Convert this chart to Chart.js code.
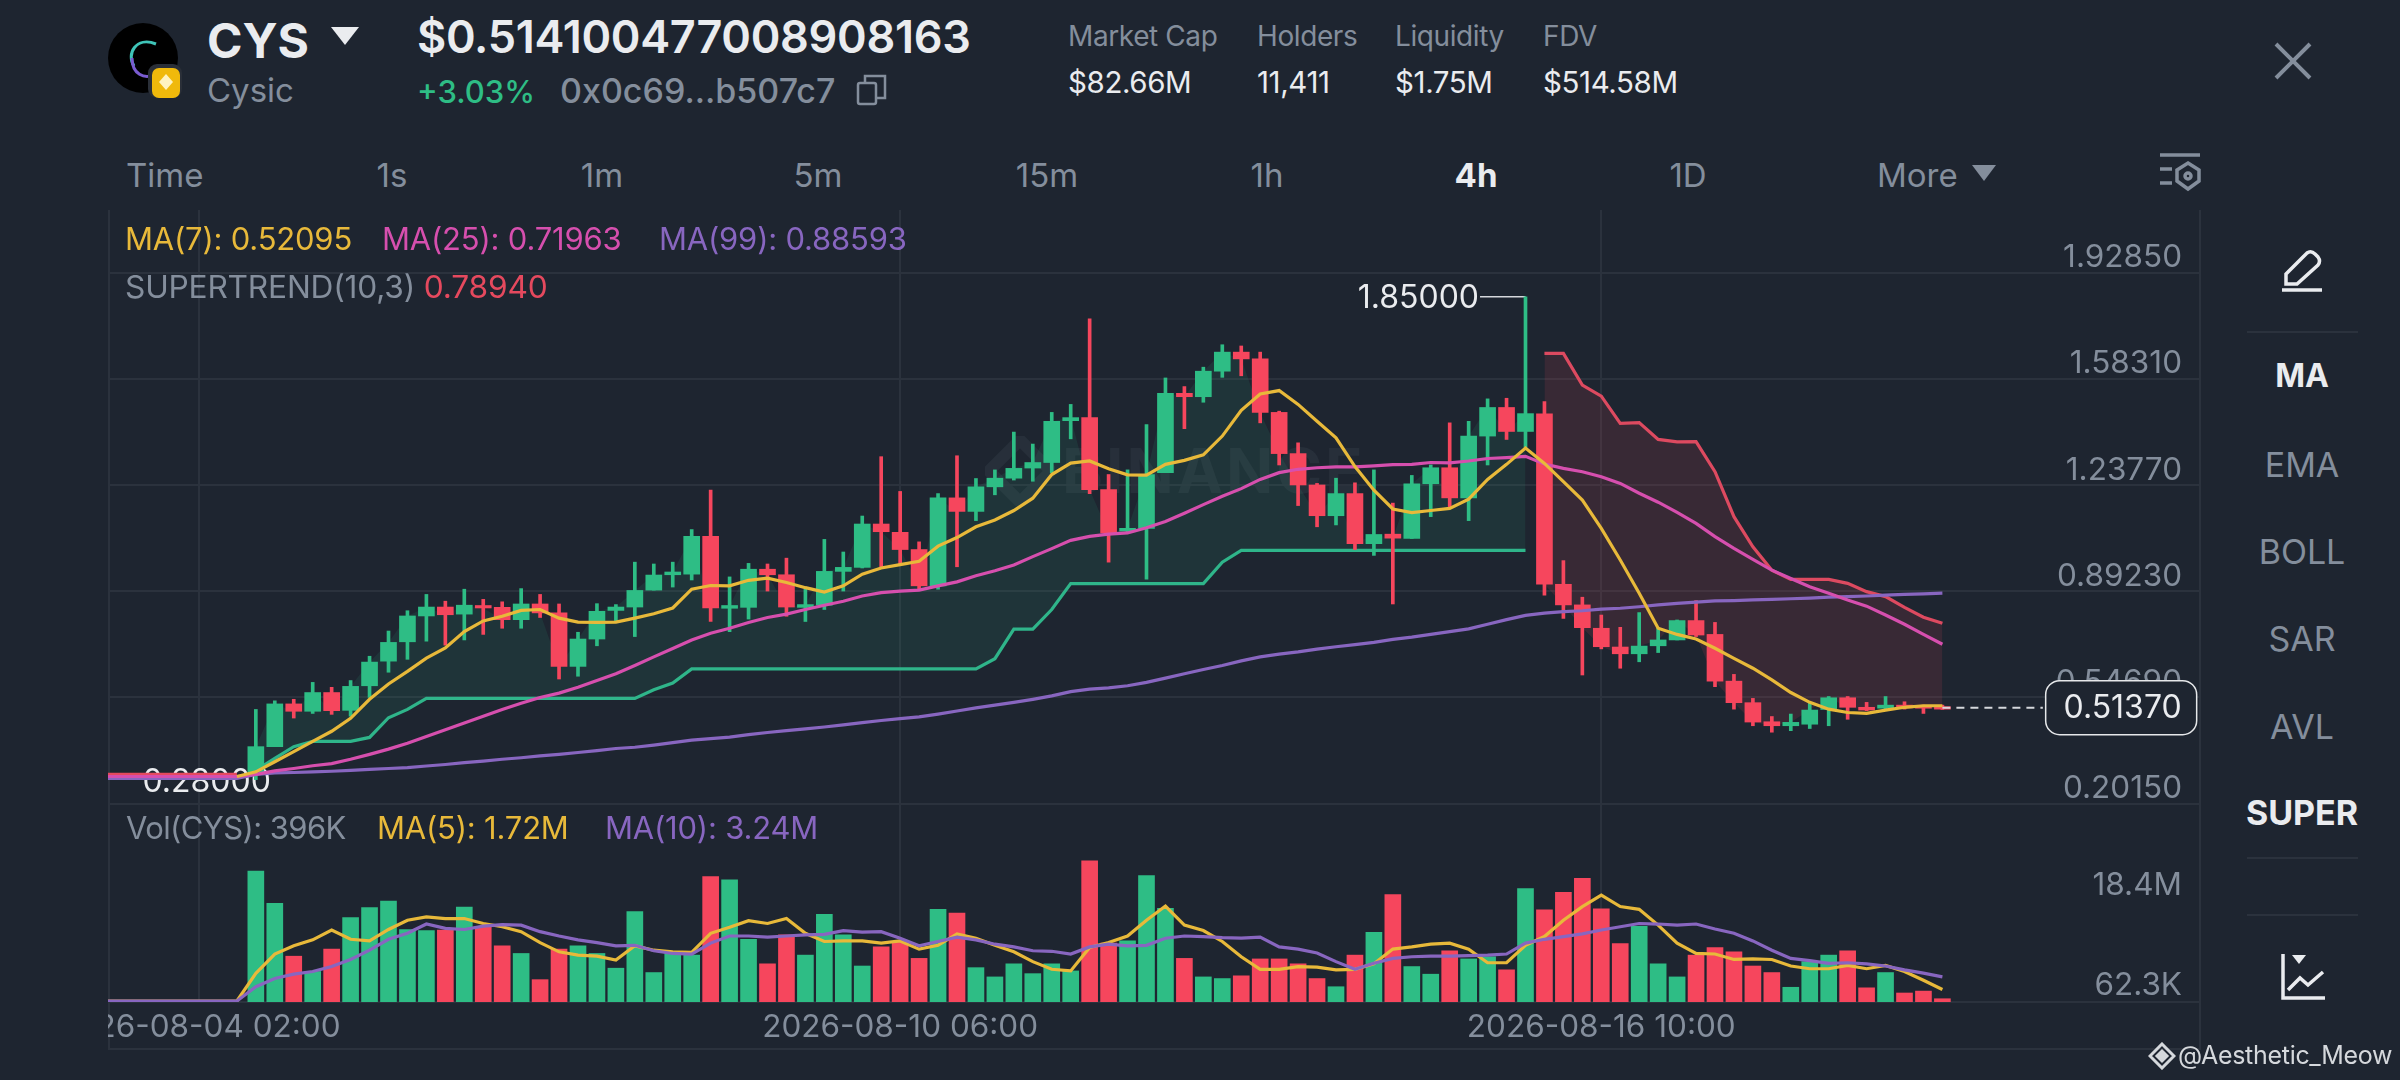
<!DOCTYPE html>
<html>
<head>
<meta charset="utf-8">
<title>CYS</title>
<script src="https://cdn.jsdelivr.net/npm/chart.js@4"></script>
<style>
  html, body { margin: 0; background: #1e2530; }
  body { width: 2400px; height: 1080px; position: relative; overflow: hidden; font-family: Inter, sans-serif; color: #848e9c; }
  .t { position: absolute; transform: translateY(-50%); white-space: nowrap; line-height: 1; z-index: 3; }
  .c { transform: translate(-50%, -50%); }
  .white { color: #eaecef; }
  .stat { font-size: 28px; letter-spacing: -0.4px; }
  .val { font-size: 29.5px; letter-spacing: -0.4px; }
  .tab { font-size: 33px; }
  .side { font-size: 34px; }
  .leg { font-size: 31px; letter-spacing: -0.2px; }
  .sep { position: absolute; left: 2247px; width: 111px; height: 2px; background: #2b323d; }
  svg { position: absolute; z-index: 3; }
  #frame { position: absolute; left: 108px; top: 210px; width: 2089px; height: 838px; border: 2px solid #2b323d; border-top: none; }
  #chart { position: absolute; left: 108px; top: 210px; z-index: 2; }
  #mark { position: absolute; left: 1062px; top: 470px; transform: translateY(-50%); font-size: 62px; font-weight: 700; letter-spacing: 3px; color: #272f3a; z-index: 1; }
</style>
</head>
<body>
<div id="frame"></div>
<svg style="left:985px;top:436px;z-index:1" width="70" height="70" viewBox="0 0 70 70"><path d="M35 4 66 35 35 66 4 35Z" fill="none" stroke="#272f3a" stroke-width="12"/></svg>
<div id="mark">BINANCE</div>
<canvas id="chart" width="2091" height="840"></canvas>

<svg style="left:106px;top:22px" width="80" height="76" viewBox="0 0 80 76">
  <circle cx="37" cy="36" r="35" fill="#000"/>
  <path d="M50 22C30 14 20 32 28 44" fill="none" stroke="#3fc4b8" stroke-width="3"/>
  <path d="M26 36C26 52 38 58 50 52" fill="none" stroke="#7a5cd0" stroke-width="3"/>
  <rect x="42" y="42" width="34" height="34" rx="9" fill="#2a2f38"/>
  <rect x="46" y="46" width="28" height="30" rx="7" fill="#f0b90b"/>
  <path d="M60 52 67 60 60 68 53 60Z" fill="#fff3c0"/>
</svg>
<div class="t white" style="left:207px;top:41px;font-size:48px;font-weight:700">CYS</div>
<svg style="left:331px;top:27px" width="28" height="18"><path d="M0 0H28L14 18Z" fill="#eaecef"/></svg>
<div class="t white" style="left:417px;top:36px;font-size:45px;font-weight:600;letter-spacing:-0.3px">$0.514100477008908163</div>
<div class="t" style="left:207px;top:90px;font-size:33px">Cysic</div>
<div class="t" style="left:417px;top:91px;font-size:31px;font-weight:500;color:#2ebd85">+3.03%</div>
<div class="t" style="left:560px;top:91px;font-size:34px;font-weight:500">0x0c69...b507c7</div>
<svg style="left:856px;top:74px" width="32" height="32" fill="none" stroke="#848e9c" stroke-width="2.5"><rect x="2" y="9" width="18" height="21" rx="2"/><path d="M9 9V2H29V24H20"/></svg>

<div class="t stat" style="left:1068px;top:36px">Market Cap</div>
<div class="t val white" style="left:1068px;top:83px">$82.66M</div>
<div class="t stat" style="left:1257px;top:36px">Holders</div>
<div class="t val white" style="left:1257px;top:83px">11,411</div>
<div class="t stat" style="left:1395px;top:36px">Liquidity</div>
<div class="t val white" style="left:1395px;top:83px">$1.75M</div>
<div class="t stat" style="left:1543px;top:36px">FDV</div>
<div class="t val white" style="left:1543px;top:83px">$514.58M</div>
<svg style="left:2274px;top:42px" width="38" height="38" stroke="#848e9c" stroke-width="4"><path d="M2 2 36 36M36 2 2 36"/></svg>

<div class="t tab" style="left:126px;top:175px">Time</div>
<div class="t tab c" style="left:392px;top:175px">1s</div>
<div class="t tab c" style="left:602px;top:175px">1m</div>
<div class="t tab c" style="left:818px;top:175px">5m</div>
<div class="t tab c" style="left:1047px;top:175px">15m</div>
<div class="t tab c" style="left:1267px;top:175px">1h</div>
<div class="t tab c white" style="left:1476px;top:175px;font-weight:700">4h</div>
<div class="t tab c" style="left:1688px;top:175px">1D</div>
<div class="t tab" style="left:1877px;top:175px">More</div>
<svg style="left:1972px;top:165px" width="24" height="16"><path d="M0 0H24L12 16Z" fill="#848e9c"/></svg>
<svg style="left:2158px;top:152px" width="44" height="40" fill="none" stroke="#848e9c" stroke-width="3.5"><path d="M2 3H42M2 17H14M2 31H14"/><path d="M30 11 41 18V29L30 37 19 29V18Z"/><circle cx="30" cy="24" r="3"/></svg>

<div class="t leg" style="left:125px;top:238px;color:#e8b93a">MA(7): 0.52095</div>
<div class="t leg" style="left:382px;top:238px;color:#d64fae">MA(25): 0.71963</div>
<div class="t leg" style="left:659px;top:238px;color:#8866c0">MA(99): 0.88593</div>
<div class="t leg" style="left:125px;top:287px;font-size:31.7px">SUPERTREND(10,3) <span style="color:#e5495e">0.78940</span></div>
<div class="t leg" style="left:126px;top:827px;letter-spacing:-0.6px">Vol(CYS): 396K</div>
<div class="t leg" style="left:377px;top:827px;color:#e8b93a">MA(5): 1.72M</div>
<div class="t leg" style="left:605px;top:827px;color:#8866c0">MA(10): 3.24M</div>

<svg style="left:2280px;top:248px" width="44" height="44" fill="none" stroke="#eaecef" stroke-width="3.5"><path d="M2 42H42"/><path d="M6 26 27 5Q31 2 35 6L38 9Q41 13 38 17L17 36 6 36Z"/></svg>
<div class="sep" style="top:331px"></div>
<div class="t c white" style="left:2302px;top:376px;font-size:32px;font-weight:700">MA</div>
<div class="t side c" style="left:2302px;top:465px">EMA</div>
<div class="t side c" style="left:2302px;top:552px">BOLL</div>
<div class="t side c" style="left:2302px;top:639px">SAR</div>
<div class="t side c" style="left:2302px;top:727px">AVL</div>
<div class="t side c white" style="left:2302px;top:813px;font-weight:700">SUPER</div>
<div class="sep" style="top:857px"></div>
<div class="sep" style="top:914px"></div>
<svg style="left:2280px;top:952px" width="46" height="50" fill="none" stroke="#eaecef" stroke-width="3.5"><path d="M3 2V46H45"/><path d="M8 38 20 26 28 33 43 20"/><path d="M12 3H26L19 12Z" fill="#eaecef" stroke="none"/></svg>

<svg style="left:2148px;top:1042px" width="28" height="28" fill="none" stroke="#d5d8dc" stroke-width="3"><path d="M14 2 26 14 14 26 2 14Z"/><path d="M14 9 19 14 14 19 9 14Z" fill="#d5d8dc"/></svg>
<div class="t" style="left:2178px;top:1055px;font-size:25px;letter-spacing:-0.3px;color:#d5d8dc">@Aesthetic_Meow</div>

<script>
// price candles, left to right
const opens = [.305,.387,.526,.502,.563,.505,.585,.665,.728,.812,
  .841,.818,.846,.840,.800,.851,.822,.648,.737,.830,
  .841,.896,.946,.948,1.071,.837,.840,.964,.946,.840,
  .847,.957,.970,1.111,1.084,1.028,.910,1.196,1.152,1.232,
  1.260,1.293,1.311,1.447,1.457,1.223,1.088,1.097,1.278,1.536,
  1.525,1.608,1.670,1.648,1.474,1.340,1.238,1.138,1.210,1.047,
  1.078,1.064,1.242,1.294,1.196,1.397,1.490,1.412,1.469,.915,
  .848,.772,.711,.689,.715,.734,.797,.752,.600,.530,
  .468,.455,.460,.508,.546,.515,.512,.522,.520,.517];
const closes = [.387,.526,.502,.563,.504,.583,.662,.726,.812,.841,
  .816,.847,.838,.800,.851,.822,.648,.737,.827,.841,
  .895,.945,.955,1.071,.838,.846,.964,.946,.841,.849,
  .957,.970,1.111,1.086,1.028,.910,1.196,1.152,1.232,1.260,
  1.292,1.311,1.445,1.457,1.223,1.082,1.097,1.272,1.536,1.525,
  1.608,1.670,1.648,1.474,1.340,1.238,1.138,1.210,1.047,1.077,
  1.065,1.242,1.294,1.196,1.397,1.490,1.412,1.470,.915,.848,
  .774,.712,.689,.714,.734,.797,.750,.600,.530,.467,
  .455,.466,.506,.546,.515,.506,.522,.513,.512,.509];
const highs = [.508,.536,.541,.596,.580,.602,.681,.763,.829,.882,
  .860,.899,.866,.858,.901,.882,.851,.759,.852,.849,
  .987,.981,.987,1.093,1.221,.939,.983,.981,1.000,.899,
  1.061,1.020,1.137,1.330,1.217,1.053,1.210,1.333,1.259,1.287,
  1.410,1.371,1.474,1.500,1.778,1.272,1.287,1.434,1.586,1.558,
  1.621,1.694,1.690,1.670,1.478,1.375,1.243,1.260,1.245,1.287,
  1.179,1.269,1.303,1.440,1.445,1.518,1.520,1.850,1.509,.992,
  .873,.815,.775,.823,.772,.799,.862,.791,.622,.544,
  .485,.493,.528,.550,.550,.531,.550,.533,.522,.522];
const lows = [.280,.387,.480,.495,.492,.486,.547,.629,.671,.730,
  .717,.734,.752,.772,.772,.807,.607,.616,.715,.794,
  .745,.896,.906,.929,.794,.761,.802,.893,.811,.794,
  .833,.893,.968,.972,.981,.899,.899,.972,1.122,1.206,
  1.254,1.250,1.278,1.388,1.210,.987,1.085,.932,1.278,1.421,
  1.507,1.588,1.593,1.440,1.303,1.171,1.102,1.108,1.028,1.009,
  .851,1.064,1.135,1.166,1.122,1.303,1.386,1.360,.880,.804,
  .620,.705,.642,.663,.693,.734,.745,.582,.509,.455,
  .434,.439,.446,.455,.476,.504,.506,.509,.495,.508];

// moving averages, 8 points before the first candle (MA7 hidden under the band there)
const ma7 = [null,null,null,null,null,null,null,.290,
  .305,.338,.371,.404,.437,.479,.541,.591,.632,.675,
  .708,.761,.796,.811,.830,.833,.805,.792,.791,.792,
  .805,.819,.838,.899,.911,.910,.928,.935,.921,.904,
  .890,.910,.948,.968,.979,.990,1.039,1.067,1.102,1.124,
  1.155,1.195,1.272,1.309,1.316,1.291,1.271,1.270,1.305,1.318,
  1.336,1.397,1.481,1.534,1.545,1.500,1.445,1.391,1.298,1.221,
  1.160,1.148,1.155,1.162,1.192,1.256,1.305,1.358,1.308,1.249,
  1.189,1.097,.994,.886,.772,.752,.737,.707,.674,.642,
  .604,.563,.531,.509,.498,.495,.506,.515,.520,.520];
const ma25 = [.290,.290,.290,.290,.290,.290,.290,.290,
  .297,.308,.316,.325,.332,.346,.362,.379,.398,.420,
  .442,.464,.486,.508,.528,.547,.561,.580,.602,.624,
  .651,.679,.706,.734,.756,.772,.791,.807,.818,.833,
  .847,.860,.877,.888,.893,.896,.910,.923,.943,.959,
  .978,1.005,1.031,1.058,1.071,1.078,1.082,1.099,1.119,1.146,
  1.174,1.201,1.226,1.256,1.278,1.289,1.294,1.297,1.297,1.300,
  1.304,1.305,1.311,1.310,1.316,1.324,1.327,1.331,1.306,1.292,
  1.281,1.265,1.243,1.211,1.182,1.149,1.113,1.070,1.032,.996,
  .961,.934,.907,.886,.864,.844,.815,.785,.752,.720];
const ma99 = [.284,.284,.284,.284,.284,.284,.284,.284,
  .297,.302,.303,.305,.307,.310,.313,.316,.319,.324,
  .329,.335,.340,.346,.351,.357,.362,.368,.374,.381,
  .385,.392,.400,.408,.413,.418,.426,.433,.439,.445,
  .451,.458,.465,.472,.478,.484,.493,.503,.513,.522,
  .531,.541,.552,.566,.574,.578,.585,.596,.610,.624,
  .638,.651,.666,.679,.688,.695,.704,.712,.719,.726,
  .736,.743,.752,.761,.770,.785,.800,.814,.821,.826,
  .829,.834,.837,.842,.848,.853,.857,.861,.862,.864,
  .866,.868,.870,.873,.875,.877,.880,.882,.884,.886];

// supertrend: flat stretch before the candles, up leg (green), down leg (red)
const superFlat = [.297,.297,.297,.297,.297,.297,.297,.297];
const superUp = [.310,.349,.387,.404,.404,.404,.417,.481,.508,.544,
  .544,.544,.544,.544,.544,.544,.544,.544,.544,.544,
  .544,.572,.594,.640,.640,.640,.640,.640,.640,.640,
  .640,.640,.640,.640,.640,.640,.640,.640,.640,.673,
  .769,.769,.833,.917,.917,.917,.917,.917,.917,.917,
  .917,.987,1.025,1.025,1.025,1.025,1.025,1.025,1.025,1.025,
  1.025,1.025,1.025,1.025,1.025,1.025,1.025,1.025];
const superDown = [1.666,1.666,1.563,1.527,1.438,1.441,1.386,1.378,1.379,1.281,
  1.135,1.037,.961,.931,.931,.931,.918,.891,.875,.840,.808,.788];

// volume in millions, one per candle
const volumes = [24.0,18.1,8.4,5.6,9.7,15.5,17.3,18.5,13.3,13.1,
  13.2,17.4,13.8,10.3,8.9,4.1,9.7,10.3,8.9,6.2,
  16.6,5.4,8.9,8.6,23.0,22.4,11.5,7.0,12.3,8.6,
  16.1,12.3,6.6,10.1,11.1,8.0,17.0,16.3,6.3,4.6,
  7.0,5.2,7.0,5.7,25.9,10.8,11.2,23.2,17.2,8.0,
  4.6,4.3,4.8,7.9,7.9,7.0,4.3,2.8,8.6,12.8,
  19.7,6.5,5.1,9.4,7.9,8.3,5.9,20.8,16.9,20.1,
  22.7,17.1,10.7,13.9,7.0,4.6,8.6,10.0,9.2,6.6,
  5.4,2.7,7.4,8.6,9.4,2.6,5.4,1.65,2.0,0.6];
const volMa5 = [.18,.18,.18,.18,.18,.18,.18,.18,
  5.25,8.8,10.3,11.4,13.2,11.5,11.2,13.3,15.0,15.6,
  15.3,15.3,14.4,13.8,12.9,10.9,9.2,8.6,8.4,7.7,
  10.3,9.5,9.2,9.1,12.6,13.7,14.9,14.4,15.3,12.6,
  11.1,11.2,11.2,10.8,11.2,9.7,10.4,12.5,11.7,10.4,
  9.2,7.4,6.0,5.7,10.0,10.9,12.1,15.0,17.6,14.1,
  13.1,11.1,8.3,6.0,6.0,6.5,6.4,5.9,6.0,7.0,
  9.7,10.1,10.6,10.8,9.7,7.2,7.2,10.4,12.0,15.0,
  17.5,19.6,17.5,17.0,14.1,10.8,8.9,8.8,7.8,7.9,
  7.8,6.6,6.1,6.1,6.7,6.1,6.7,5.6,4.0,2.3];
const volMa10 = [.18,.18,.18,.18,.18,.18,.18,.18,
  2.8,4.3,5.1,5.6,6.5,7.8,9.5,11.5,12.6,14.3,
  13.5,13.3,13.9,14.2,14.1,12.9,12.1,11.4,10.9,10.3,
  10.4,9.4,8.9,8.8,10.8,12.1,12.1,11.9,12.1,12.3,
  12.4,13.1,12.8,12.9,11.7,10.3,11.1,11.9,11.4,10.6,
  10.1,9.4,9.3,8.8,10.1,10.6,10.3,10.4,11.7,12.1,
  12.0,11.8,11.7,11.9,10.1,9.7,9.0,7.4,6.0,7.1,
  8.0,8.3,8.4,8.4,8.5,8.6,8.8,10.8,11.5,12.0,
  12.5,13.2,13.8,14.4,14.3,14.1,14.3,13.4,12.6,11.2,
  9.5,8.0,7.6,7.1,7.2,7.0,6.6,5.9,5.3,4.6];

// axes
const priceTicks = [1.9285, 1.5831, 1.2377, 0.8923, 0.5469, 0.2015];
const volTicks = [18.4, 0.0623];
const volTickLabels = ["18.4M", "62.3K"];
const dateTicks = [0, 37, 74];
const dateLabels = ["2026-08-04 02:00", "2026-08-10 06:00", "2026-08-16 10:00"];
const lastPrice = 0.5137;

const UP = "#2ebd85", DOWN = "#f6465d", GREY = "#848e9c", GRID = "#2b323d";
const FIRST = 3;  // axis position of the first candle
const candles = (fn) => opens.map((_, i) => ({ x: FIRST + i, y: fn(i) }));
const colors = opens.map((o, i) => closes[i] >= o ? UP : DOWN);
const withLead = (arr) => arr.map((y, i) => ({ x: i - 5, y }));
const line = (label, data, color, axis, order, extra) => Object.assign({
  type: "line", label, data, borderColor: color, borderWidth: 3.2, pointRadius: 0,
  tension: 0, yAxisID: axis, order
}, extra || {});

const datasets = [
  line("close", candles(i => closes[i]), "transparent", "y", 20, { borderWidth: 0 }),
  line("up", superUp.map((y, i) => ({ x: FIRST + i, y })), "#2fb58a", "y", 9,
    { fill: { target: 0 }, backgroundColor: "rgba(46,189,133,0.10)" }),
  line("down", superDown.map((y, i) => ({ x: FIRST + superUp.length + i, y })), "#dd4a60", "y", 9,
    { fill: { target: 0 }, backgroundColor: "rgba(246,70,93,0.12)" }),
  line("flat", superFlat.map((y, i) => ({ x: i - 5, y })), "#e5495e", "y", 9),
  { type: "bar", label: "vol", data: volumes.map((y, i) => ({ x: FIRST + i, y })), backgroundColor: colors,
    yAxisID: "yv", grouped: false, barThickness: 16, order: 8 },
  { type: "bar", label: "wick", data: candles(i => [lows[i], highs[i]]), backgroundColor: colors,
    yAxisID: "y", grouped: false, barThickness: 3, order: 7 },
  { type: "bar", label: "body", data: candles(i => [opens[i], closes[i]]), backgroundColor: colors,
    yAxisID: "y", grouped: false, barThickness: 16, order: 6 },
  line("ma99", withLead(ma99), "#8866c0", "y", 5),
  line("ma25", withLead(ma25), "#d64fae", "y", 4),
  line("ma7", withLead(ma7), "#e8b93a", "y", 3),
  line("volMa5", withLead(volMa5), "#e8b93a", "yv", 2),
  line("volMa10", withLead(volMa10), "#8866c0", "yv", 1),
  line("high", [{ x: 67.6, y: 1.85 }, { x: 70, y: 1.85 }], "#d5d8dc", "y", 7, { borderWidth: 1.5 }),
  line("last", [{ x: 92, y: lastPrice }, { x: 97.3, y: lastPrice }], "#d5d8dc", "y", 1,
    { borderWidth: 2, borderDash: [8, 6] })
];

const marks = {
  id: "marks",
  beforeDatasetsDraw(chart) {
    const { x, y } = chart.scales, c = chart.ctx;
    c.save();
    c.font = "32px Inter";
    c.fillStyle = "#eaecef";
    c.textBaseline = "middle";
    c.textAlign = "right";
    c.fillText("0.28000", x.getPixelForValue(3) + 15, y.getPixelForValue(0.28) + 3);
    c.fillText("1.85000", x.getPixelForValue(67.6) - 1, y.getPixelForValue(1.85) + 2);
    c.restore();
  },
  afterDatasetsDraw(chart) {
    const { x, y } = chart.scales, c = chart.ctx;
    const py = y.getPixelForValue(lastPrice), left = x.getPixelForValue(97.45);
    c.save();
    c.beginPath();
    c.roundRect(left, py - 27, 151, 54, 14);
    c.fillStyle = "#1e2530";
    c.fill();
    c.strokeStyle = "#e6e8ea";
    c.lineWidth = 1.5;
    c.stroke();
    c.font = "32px Inter";
    c.fillStyle = "#eaecef";
    c.textBaseline = "middle";
    c.textAlign = "right";
    c.fillText(lastPrice.toFixed(5), left + 136, py + 1);
    c.restore();
  }
};

const noPad = (scale) => { scale.paddingLeft = 0; scale.paddingRight = 0; scale.paddingTop = 0; scale.paddingBottom = 0; };

new Chart(document.getElementById("chart"), {
  data: { datasets },
  plugins: [marks],
  options: {
    responsive: false,
    animation: false,
    devicePixelRatio: 1,
    layout: { padding: 0 },
    plugins: { legend: { display: false }, tooltip: { enabled: false } },
    scales: {
      x: {
        type: "linear", min: -4.802, max: 105.541, offset: false,
        afterBuildTicks: (s) => { s.ticks = dateTicks.map(value => ({ value })); },
        afterFit: (s) => { s.height = 48; noPad(s); },
        grid: { color: GRID, lineWidth: 2, drawTicks: false, offset: false },
        border: { display: true, color: GRID, width: 2 },
        ticks: {
          color: GREY, font: { family: "Inter", size: 31.5 }, padding: 7, autoSkip: false, maxRotation: 0,
          callback: (v) => dateLabels[dateTicks.indexOf(v)]
        }
      },
      y: {
        position: "right", min: -0.4434, max: 2.1322,
        afterBuildTicks: (s) => { s.ticks = priceTicks.map(value => ({ value })); },
        afterFit: (s) => { s.width = 0; noPad(s); },
        grid: { color: GRID, lineWidth: 2, drawTicks: false },
        border: { display: false },
        ticks: {
          mirror: true, color: GREY, font: { family: "Inter", size: 31.5 }, padding: -17, labelOffset: -15, autoSkip: false,
          callback: (v) => v.toFixed(5)
        }
      },
      yv: {
        position: "right", min: 0, max: 145.25,
        afterBuildTicks: (s) => { s.ticks = volTicks.map(value => ({ value })); },
        afterFit: (s) => { s.width = 0; noPad(s); },
        grid: { display: false, drawTicks: false },
        border: { display: false },
        ticks: {
          mirror: true, color: GREY, font: { family: "Inter", size: 31.5 }, padding: -17, labelOffset: -16.5, autoSkip: false,
          callback: (v) => volTickLabels[volTicks.indexOf(v)]
        }
      }
    }
  }
});
</script>
</body>
</html>
